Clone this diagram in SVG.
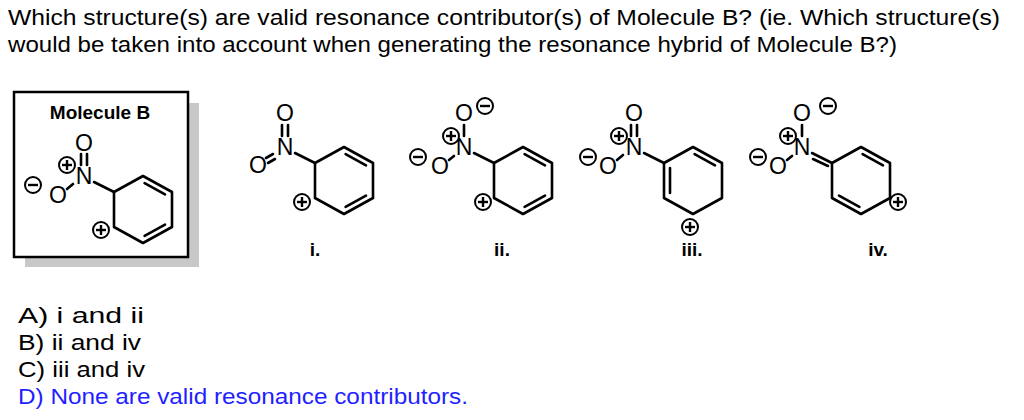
<svg xmlns="http://www.w3.org/2000/svg" xmlns:xlink="http://www.w3.org/1999/xlink" width="1024" height="420" viewBox="0 0 1024 420">
<style>
.q{font-family:"Liberation Sans",Arial,sans-serif;font-size:22px;fill:#000}
.a{font-family:"Liberation Sans",Arial,sans-serif;font-size:22px;fill:#000}
.lab{font-family:"Liberation Sans",Arial,sans-serif;font-size:19px;font-weight:bold;text-anchor:middle}
.at{font-family:"Liberation Sans",Arial,sans-serif;font-size:23px;text-anchor:middle}
.b{stroke:#000;stroke-width:2.6;fill:none;stroke-linecap:round;stroke-linejoin:round}
.c{stroke:#000;stroke-width:2;fill:#fff}
.s{stroke:#000;stroke-width:2.4}
</style>
<defs>
<g id="plus"><circle class="c" r="8"/><line class="s" x1="-5" y1="0" x2="5" y2="0"/><line class="s" x1="0" y1="-5" x2="0" y2="5"/></g>
<g id="minus"><circle class="c" r="8"/><line class="s" x1="-5" y1="0" x2="5" y2="0"/></g>
<polygon id="ring" class="b" points="0,0 29,-16 58,0 58,35 29,51 0,35"/>
<g id="dTop"><line class="b" x1="30.6" y1="-8.8" x2="51" y2="2.4"/></g>
<g id="dBot"><line class="b" x1="51" y1="32.6" x2="30.6" y2="43.8"/></g>
<g id="dLeft"><line class="b" x1="6" y1="5" x2="6" y2="30"/></g>
<g id="dLL"><line class="b" x1="7" y1="32.6" x2="27.4" y2="43.8"/></g>
</defs>
<text class="q" x="8" y="25" textLength="992" lengthAdjust="spacingAndGlyphs">Which structure(s) are valid resonance contributor(s) of Molecule B? (ie. Which structure(s)</text>
<text class="q" x="8" y="52" textLength="889" lengthAdjust="spacingAndGlyphs">would be taken into account when generating the resonance hybrid of Molecule B?)</text>

<g id="moleculeB">
<rect x="25" y="103" width="174" height="164" fill="#c8c8c8"/>
<rect x="14" y="92" width="174" height="165" fill="#fff" stroke="#000" stroke-width="2.5"/>
<text x="100" y="119" font-family="Liberation Sans,Arial,sans-serif" font-size="19" font-weight="bold" text-anchor="middle">Molecule B</text>
<g transform="translate(114,192)">
<use xlink:href="#ring"/><use xlink:href="#dTop"/><use xlink:href="#dBot"/>
<line class="b" x1="-20" y1="-10" x2="0" y2="0"/>
<text class="at" x="-30" y="-8">N</text>
<text class="at" x="-30" y="-41">O</text>
<line class="b" x1="-33" y1="-38" x2="-33" y2="-27"/><line class="b" x1="-27" y1="-38" x2="-27" y2="-27"/>
<text class="at" x="-56" y="11">O</text>
<line class="b" x1="-47" y1="-3" x2="-41" y2="-8"/>
<use xlink:href="#plus" x="-47" y="-27"/>
<use xlink:href="#minus" x="-81" y="-7"/>
<use xlink:href="#plus" x="-13" y="38"/>
</g>
</g>

<g id="structure-i" transform="translate(315,163)">
<use xlink:href="#ring"/><use xlink:href="#dTop"/><use xlink:href="#dBot"/>
<line class="b" x1="-20" y1="-10" x2="0" y2="0"/>
<text class="at" x="-30" y="-8">N</text>
<text class="at" x="-30" y="-42">O</text>
<line class="b" x1="-33" y1="-38" x2="-33" y2="-27"/><line class="b" x1="-27" y1="-38" x2="-27" y2="-27"/>
<text class="at" x="-57" y="10">O</text>
<line class="b" x1="-49" y1="-5" x2="-42" y2="-9"/><line class="b" x1="-47" y1="0" x2="-40" y2="-4"/>
<use xlink:href="#plus" x="-13" y="39"/>
<text class="lab" x="0" y="93">i.</text>
</g>

<g id="structure-ii" transform="translate(494,163)">
<use xlink:href="#ring"/><use xlink:href="#dTop"/><use xlink:href="#dBot"/>
<line class="b" x1="-20" y1="-10" x2="0" y2="0"/>
<text class="at" x="-30" y="-8">N</text>
<text class="at" x="-30" y="-42">O</text>
<line class="b" x1="-30" y1="-38" x2="-30" y2="-27"/>
<text class="at" x="-54" y="11">O</text>
<line class="b" x1="-45" y1="-3" x2="-40" y2="-7"/>
<use xlink:href="#plus" x="-43" y="-27"/>
<use xlink:href="#minus" x="-76" y="-6"/>
<use xlink:href="#minus" x="-9" y="-57"/>
<use xlink:href="#plus" x="-11" y="39"/>
<text class="lab" x="8" y="93">ii.</text>
</g>

<g id="structure-iii" transform="translate(664,163)">
<use xlink:href="#ring"/><use xlink:href="#dTop"/><use xlink:href="#dLeft"/>
<line class="b" x1="-20" y1="-10" x2="0" y2="0"/>
<text class="at" x="-30" y="-8">N</text>
<text class="at" x="-30" y="-42">O</text>
<line class="b" x1="-33" y1="-38" x2="-33" y2="-27"/><line class="b" x1="-27" y1="-38" x2="-27" y2="-27"/>
<text class="at" x="-56" y="11">O</text>
<line class="b" x1="-47" y1="-3" x2="-41" y2="-8"/>
<use xlink:href="#plus" x="-45" y="-27"/>
<use xlink:href="#minus" x="-76" y="-6"/>
<use xlink:href="#plus" x="26" y="64"/>
<text class="lab" x="28" y="93">iii.</text>
</g>

<g id="structure-iv" transform="translate(832,163)">
<use xlink:href="#ring"/><use xlink:href="#dTop"/><use xlink:href="#dLL"/>
<line class="b" x1="-20" y1="-10" x2="0" y2="0"/><line class="b" x1="-19" y1="-4" x2="-4" y2="3"/>
<text class="at" x="-30" y="-8">N</text>
<text class="at" x="-30" y="-42">O</text>
<line class="b" x1="-30" y1="-38" x2="-30" y2="-27"/>
<text class="at" x="-54" y="11">O</text>
<line class="b" x1="-45" y1="-3" x2="-40" y2="-7"/>
<use xlink:href="#plus" x="-44" y="-27"/>
<use xlink:href="#minus" x="-74" y="-6"/>
<use xlink:href="#minus" x="-4" y="-57"/>
<use xlink:href="#plus" x="66" y="39"/>
<text class="lab" x="46" y="93">iv.</text>
</g>

<text class="a" x="18" y="323" textLength="126" lengthAdjust="spacingAndGlyphs">A)  i and ii</text>
<text class="a" x="18" y="350" textLength="123" lengthAdjust="spacingAndGlyphs">B)  ii and iv</text>
<text class="a" x="18" y="377" textLength="127" lengthAdjust="spacingAndGlyphs">C)  iii and iv</text>
<text class="a" x="18" y="404" textLength="450" lengthAdjust="spacingAndGlyphs" style="fill:#1f1fff">D)  None are valid resonance contributors.</text>
</svg>
